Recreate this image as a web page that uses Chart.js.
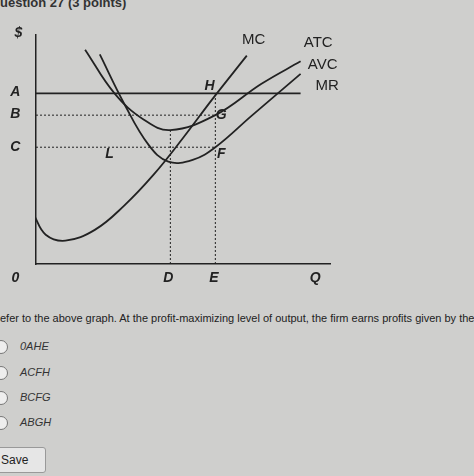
<!DOCTYPE html><html><head><meta charset="utf-8">
<script src="https://cdn.jsdelivr.net/npm/chart.js@4/dist/chart.umd.min.js"></script>
<style>
body{margin:0;width:474px;height:476px;background:#cfcfcd;font-family:"Liberation Sans",Arial,sans-serif;overflow:hidden;position:relative}
#t{position:absolute;left:0;top:-5px;font-size:13px;font-weight:bold;color:#333}
#c{position:absolute;left:0;top:0}
#q{position:absolute;left:0;top:312px;font-size:11px;color:#222;white-space:nowrap}
.o{position:absolute;left:-6px;font-size:11px;font-style:italic;color:#333}
.o span{display:inline-block;width:12px;height:12px;border:1px solid #777;border-radius:50%;background:#eee;vertical-align:middle;margin-right:12px}
#s{position:absolute;left:-4px;top:447px;width:44px;height:24px;border:1px solid #999;background:#e6e6e6;border-radius:3px;font-size:12px;line-height:24px;padding-left:4px;color:#222}
</style></head><body>
<div id="t">uestion 27 (3 points)</div>
<canvas id="c" width="474" height="300"></canvas>
<div id="q">efer to the above graph. At the profit-maximizing level of output, the firm earns profits given by the a</div>
<div class="o" style="top:340px"><span></span>0AHE</div>
<div class="o" style="top:366px"><span></span>ACFH</div>
<div class="o" style="top:391px"><span></span>BCFG</div>
<div class="o" style="top:416px"><span></span>ABGH</div>
<div id="s">Save</div>
<script>
const mcX=[-0.07,0.33,1,2,3,4,5,6,7.17];
const mcY=[2.13,1.28,1.02,1.49,2.55,3.9,5.5,7.2,9.1];
const atcX=[1.67,2.67,3.67,4.57,6.1,7.67,9];
const atcY=[9.36,7.45,6.3,5.85,6.5,7.87,8.85];
const avcX=[2.17,3,3.83,4.5,5.33,6.1,7.33,9];
const avcY=[9.15,7.0,5.2,4.47,4.55,5.1,6.47,8.3];
const mrX=[0,9];const mrY=[7.45,7.45];
const qD=4.57,qE=6.1,pA=7.45,pB=6.5,pC=5.1,atcMin=5.85;
const labels=[["$",-0.6,10.1],["0",-0.7,-0.6],["D",4.5,-0.6],["E",6.05,-0.6],["Q",9.5,-0.6],["A",-0.7,7.5],["B",-0.7,6.55],["C",-0.7,5.1],
["MC",7.4,9.8],["ATC",9.6,9.65],["AVC",9.75,8.7],["MR",9.9,7.8],["H",5.9,7.75],["G",6.3,6.5],["L",2.5,4.8],["F",6.3,4.8]];
const pts=(xs,ys)=>xs.map((x,i)=>({x,y:ys[i]}));
const line=(d,dash,t)=>({data:d,borderColor:'#222',borderWidth:dash?1:1.8,borderDash:dash?[2,2]:[],pointRadius:0,tension:t||0,fill:false});
new Chart(document.getElementById('c'),{type:'scatter',
data:{datasets:[line(pts(mcX,mcY),0,0.4),line(pts(atcX,atcY),0,0.4),line(pts(avcX,avcY),0,0.4),line(pts(mrX,mrY)),
line([{x:0,y:pB},{x:qE,y:pB}],1),line([{x:0,y:pC},{x:qE,y:pC}],1),line([{x:qE,y:0},{x:qE,y:pA}],1),line([{x:qD,y:0},{x:qD,y:atcMin}],1)].map(d=>(d.showLine=true,d))},
options:{animation:false,responsive:false,layout:{padding:{left:28,right:144,top:35,bottom:28}},
plugins:{legend:{display:false},tooltip:{enabled:false}},
scales:{x:{min:0,max:10,grid:{display:false},ticks:{display:false},border:{color:'#222',width:1.5}},
y:{min:0,max:10,grid:{display:false},ticks:{display:false},border:{color:'#222',width:1.5}}}},
plugins:[{id:'lab',afterDraw(ch){const c=ch.ctx,x=ch.scales.x,y=ch.scales.y;c.save();c.fillStyle='#222';c.textAlign='center';c.textBaseline='middle';
labels.forEach(([t,a,b])=>{c.font=(t.length>1?'15px':'bold italic 14px')+' "Liberation Sans",Arial';c.fillText(t,x.getPixelForValue(a),y.getPixelForValue(b));});c.restore();}}]
});
</script></body></html>
